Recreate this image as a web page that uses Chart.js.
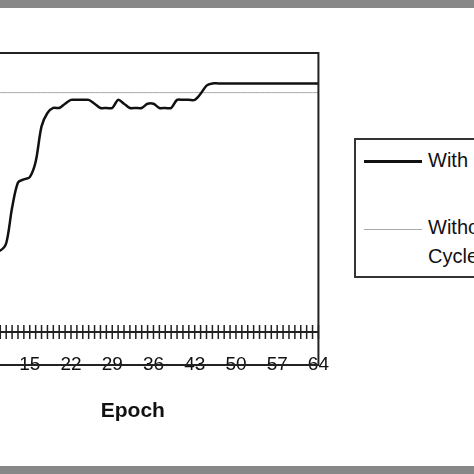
<!DOCTYPE html>
<html><head><meta charset="utf-8">
<script src="https://cdn.jsdelivr.net/npm/chart.js@4"></script>
<style>
html,body{margin:0;padding:0;background:#fff;overflow:hidden;width:474px;height:474px;position:relative;font-family:Arial,"Liberation Sans",sans-serif}
#wrap{position:absolute;left:-71px;top:0;width:413px;height:474px}
#tb{position:absolute;left:0;top:0;width:474px;height:8px;background:#888;z-index:2}
#bb{position:absolute;left:0;top:466px;width:474px;height:8px;background:#888;z-index:2}
#leg{position:absolute;left:354px;top:138px;width:200px;height:140px;border:2px solid #333;box-sizing:border-box;background:#fff;z-index:2}
.ln{position:absolute;left:8px;width:58px}
.tx{position:absolute;left:72px;font-size:20px;line-height:29px;color:#111;white-space:nowrap}
</style></head><body>
<div id="tb"></div><div id="bb"></div>
<div id="wrap"><canvas id="c"></canvas></div>
<div id="leg">
<div class="ln" style="top:20px;height:3px;background:#111"></div><div class="tx" style="top:6px">With Cycle</div>
<div class="ln" style="top:89px;height:1px;background:#aaa"></div><div class="tx" style="top:73px">Without<br>Cycle</div>
</div>
<script>
const epochs = Array.from({length:64},(_,i)=>String(i+1));
const withCycle = [29.2,29.2,29.2,29.2,29.2,29.2,29.2,29.2,29.2,29.2,31.8,44.5,53.6,54.7,55.5,61.0,73.7,78.5,80.3,80.3,81.8,83.2,83.2,83.2,83.2,81.8,80.3,80.3,80.3,83.2,81.8,80.3,80.3,80.3,81.8,81.8,80.3,80.3,80.3,83.2,83.2,83.2,83.2,85.4,88.3,89.1,89.1,89.1,89.1,89.1,89.1,89.1,89.1,89.1,89.1,89.1,89.1,89.1,89.1,89.1,89.1,89.1,89.1,89.1];
const withoutCycle = epochs.map(()=>85.8);
const frame={id:'frame',afterDraw(ch){const a=ch.chartArea,c=ch.ctx,x=ch.scales.x;c.save();c.strokeStyle='#222';c.lineWidth=2;
c.beginPath();c.moveTo(a.left,a.top);c.lineTo(a.right,a.top);c.lineTo(a.right,365);c.lineTo(a.left,365);c.stroke();
c.beginPath();c.moveTo(a.left,a.bottom);c.lineTo(a.right,a.bottom);c.stroke();
c.lineWidth=1.5;c.beginPath();for(let i=0;i<epochs.length;i++){const p=x.getPixelForTick(i);c.moveTo(p,a.bottom-7);c.lineTo(p,a.bottom+7);}c.stroke();c.restore();}};
new Chart(document.getElementById('c'),{type:'line',
data:{labels:epochs,datasets:[
{label:'With Cycle',data:withCycle,borderColor:'#111',borderWidth:2.5,pointRadius:0,tension:0.3},
{label:'Without Cycle',data:withoutCycle,borderColor:'#aaa',borderWidth:1,pointRadius:0}]},
options:{responsive:true,maintainAspectRatio:false,animation:false,
layout:{padding:{top:53,left:7,right:1,bottom:46}},
plugins:{legend:{display:false},tooltip:{enabled:false}},
scales:{y:{display:false,min:0,max:100},
x:{offset:false,grid:{display:false},border:{display:false},
ticks:{autoSkip:false,maxRotation:0,padding:13,color:'#111',font:{size:19,family:'Arial'},callback:(v,i)=>i%7===0?epochs[i]:''},
title:{display:true,text:'Epoch',color:'#111',font:{size:21,weight:'bold',family:'Arial'},padding:{top:10}}}}},
plugins:[frame]});
</script></body></html>
